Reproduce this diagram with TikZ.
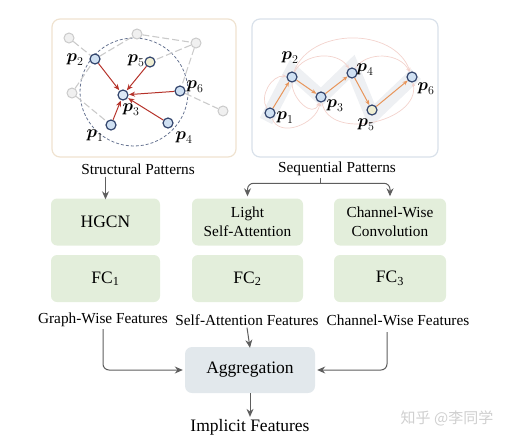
\documentclass[tikz,border=0pt]{standalone}
\usepackage{fontspec}
\setmainfont{Liberation Serif}
\newfontfamily\cjkfont{Noto Sans CJK SC}
\usepackage{amsmath}
\usetikzlibrary{arrows.meta,calc}
\definecolor{navy}{HTML}{34466E}
\definecolor{ptfill}{HTML}{CFE0F2}
\definecolor{ptyel}{HTML}{EFEED2}
\definecolor{darkred}{HTML}{B5322A}
\definecolor{orng}{HTML}{E8955A}
\definecolor{pinkarc}{HTML}{F3D3CD}
\definecolor{boxgreen}{HTML}{E3EEDB}
\definecolor{agggray}{HTML}{E2E8EC}
\definecolor{arrgray}{HTML}{5E5E5E}
\definecolor{lborder}{HTML}{EFE2D0}
\definecolor{rborder}{HTML}{D9E1EA}
\definecolor{band}{HTML}{EEF0F3}
\definecolor{gnode}{HTML}{CACACA}
\begin{document}
\begin{tikzpicture}[x=1pt,y=-1pt,
  pt/.style={circle,draw=navy,fill=ptfill,line width=1.2pt,minimum size=10pt,inner sep=0pt},
  gpt/.style={circle,draw=gnode,fill=gray!12,line width=1pt,minimum size=10pt,inner sep=0pt},
  lbl/.style={inner sep=0pt,font=\fontsize{17}{17}\selectfont},
  gline/.style={draw=gnode,line width=1.1pt,dash pattern=on 7pt off 3pt},
  redarr/.style={-{Stealth[length=6pt,width=5pt]},draw=darkred,line width=1pt,shorten >=0.5pt},
  orarr/.style={-{Stealth[length=5pt,width=4pt]},draw=orng,line width=1pt},
  pkarc/.style={-{Stealth[length=4pt,width=3.5pt]},draw=pinkarc,line width=0.7pt},
  box/.style={rounded corners=6pt,fill=boxgreen,minimum width=110pt,minimum height=47pt,align=center,inner sep=2pt},
  garr/.style={-{Stealth[length=8pt,width=7pt]},draw=arrgray,line width=1pt},
  txt/.style={inner sep=2pt,font=\fontsize{15.3}{17}\selectfont},
  bigtxt/.style={font=\fontsize{17.5}{19}\selectfont}
]
\useasboundingbox (0,0) rectangle (506,442);
% panels
\draw[lborder,line width=1.2pt,rounded corners=8pt] (52,19) rectangle (236,157);
\draw[rborder,line width=1.2pt,rounded corners=8pt] (252,19) rectangle (438,157);

% ---- left panel: structural ----
\draw[navy!75,line width=0.8pt,dash pattern=on 3pt off 2pt] (134,92) circle (54);
\node[gpt] (g1) at (69,38) {};
\node[gpt] (g2) at (137,34) {};
\node[gpt] (g3) at (196,43) {};
\node[gpt] (g4) at (72,93) {};
\node[gpt] (g5) at (223,111) {};
\node[pt] (a2) at (95,59) {};
\node[pt,fill=ptyel] (a5) at (150,62) {};
\node[pt,fill=ptfill!70] (a3) at (123,95) {};
\node[pt] (a6) at (180,91) {};
\node[pt] (a1) at (111,125) {};
\node[pt] (a4) at (168,123) {};
\draw[gline] (g1) -- (a2);
\draw[gline] (a2) -- (g2);
\draw[gline] (g2) -- (g3);
\draw[gline] (g3) -- (a5);
\draw[gline] (g3) -- (a6);
\draw[gline] (a6) -- (g5);
\draw[gline] (g4) -- (a2);
\draw[gline] (g4) -- (a1);
\draw[redarr] (a2) -- (a3);
\draw[redarr] (a5) -- (a3);
\draw[redarr] (a6) -- (a3);
\draw[redarr] (a4) -- (a3);
\draw[redarr] (a1) -- (a3);
\node[lbl] (la2) at (75,60) {$\boldsymbol{p}_2$};
\node[lbl] (la5) at (136,61) {$\boldsymbol{p}_5$};
\node[lbl] (la3) at (131,110) {$\boldsymbol{p}_3$};
\node[lbl] (la6) at (195,87) {$\boldsymbol{p}_6$};
\node[lbl] (la1) at (95,136) {$\boldsymbol{p}_1$};
\node[lbl] (la4) at (184,138) {$\boldsymbol{p}_4$};

% ---- right panel: sequential ----
\coordinate (b1) at (270,113);
\coordinate (b2) at (292,77);
\coordinate (b3) at (321,97);
\coordinate (b4) at (352,73);
\coordinate (b5) at (372,110);
\coordinate (b6) at (412,77);
\draw[band,line width=14pt,line join=miter] ($(b1)+(-4,8)$) -- ($(b2)+(0,-6)$) -- (b3) -- ($(b4)+(0,-6)$) -- ($(b5)+(0,6)$) -- ($(b6)+(4,-3)$);
\node[pt] (c1) at (b1) {};
\node[pt] (c2) at (b2) {};
\node[pt] (c3) at (b3) {};
\node[pt] (c4) at (b4) {};
\node[pt,fill=ptyel] (c5) at (b5) {};
\node[pt] (c6) at (b6) {};
\draw[pkarc] (c1) to[bend left=65] (c2);
\draw[pkarc] (c1) to[out=-70,in=-100,looseness=1.1] (c3);
\draw[pkarc] (c2) to[out=-90,in=-110,looseness=1.3] (c3);
\draw[pkarc] (c2) to[bend left=60] (c4);
\draw[pkarc] (c2) to[out=70,in=110,looseness=1.05] (c6);
\draw[pkarc] (c4) to[bend left=60] (c6);
\draw[pkarc] (c3) to[out=-80,in=-80,looseness=1.1] (c6);
\draw[orarr] (c1) -- (c2);
\draw[orarr] (c2) -- (c3);
\draw[orarr] (c3) -- (c4);
\draw[orarr] (c4) -- (c5);
\draw[orarr] (c5) -- (c6);
\node[lbl] (lc1) at (285,118) {$\boldsymbol{p}_1$};
\node[lbl] (lc2) at (290,58) {$\boldsymbol{p}_2$};
\node[lbl] (lc3) at (335,106) {$\boldsymbol{p}_3$};
\node[lbl] (lc4) at (365,70) {$\boldsymbol{p}_4$};
\node[lbl] (lc5) at (366,125) {$\boldsymbol{p}_5$};
\node[lbl] (lc6) at (426,89) {$\boldsymbol{p}_6$};

% ---- pattern labels ----
\node[txt] (sp) at (138,169) {Structural Patterns};
\node[txt] (seq) at (337,169) {Sequential Patterns};

% ---- boxes ----
\node[box,minimum width=109pt,bigtxt] (hgcn) at (105.5,222) {HGCN};
\node[box,minimum width=111pt,txt,font=\fontsize{15.3}{19}\selectfont] (lsa) at (247.5,222) {Light\\Self-Attention};
\node[box,minimum width=112pt,txt,font=\fontsize{15.3}{19}\selectfont] (cwc) at (390,222) {Channel-Wise\\Convolution};
\node[box,minimum width=109pt,bigtxt] (fc1) at (105.5,278.5) {FC\textsubscript{1}};
\node[box,minimum width=111pt,bigtxt] (fc2) at (247.5,278.5) {FC\textsubscript{2}};
\node[box,minimum width=112pt,bigtxt] (fc3) at (390,278.5) {FC\textsubscript{3}};

\node[txt] (gwf) at (103,320) {Graph-Wise Features};
\node[txt] (saf) at (247,320) {Self-Attention Features};
\node[txt] (cwf) at (398,320) {Channel-Wise Features};

\node[rounded corners=7pt,fill=agggray,minimum width=130pt,minimum height=46pt,bigtxt] (agg) at (250,370) {Aggregation};
\node[bigtxt,inner sep=2pt] (impl) at (250,427) {Implicit Features};

\node[text=gray!38,font=\cjkfont\fontsize{15}{15}\selectfont] (wm) at (447,418) {知乎 @李同学};

% ---- arrows ----
\draw[garr] (hgcn.north |- sp.south) -- ([yshift=-1pt]hgcn.north);
\draw[draw=arrgray,line width=1pt,{Stealth[length=8pt,width=7pt]}-{Stealth[length=8pt,width=7pt]},rounded corners=6pt,shorten <=2pt,shorten >=2pt]
  (lsa.north) -- ++(0,-15) -| (cwc.north);
\coordinate (tk) at (320,183);
\draw[draw=arrgray,line width=1pt] (tk) -- (tk |- seq.south);
\draw[garr,rounded corners=6pt] (gwf.south) |- ([xshift=-2pt]agg.west);
\coordinate (rc) at (387,332);
\draw[garr,rounded corners=6pt] (rc) |- ([xshift=2pt]agg.east);
\draw[garr] (saf.south) -- ([yshift=-1pt]agg.north);
\draw[garr] (agg.south) -- (impl.north);
\end{tikzpicture}
\end{document}
